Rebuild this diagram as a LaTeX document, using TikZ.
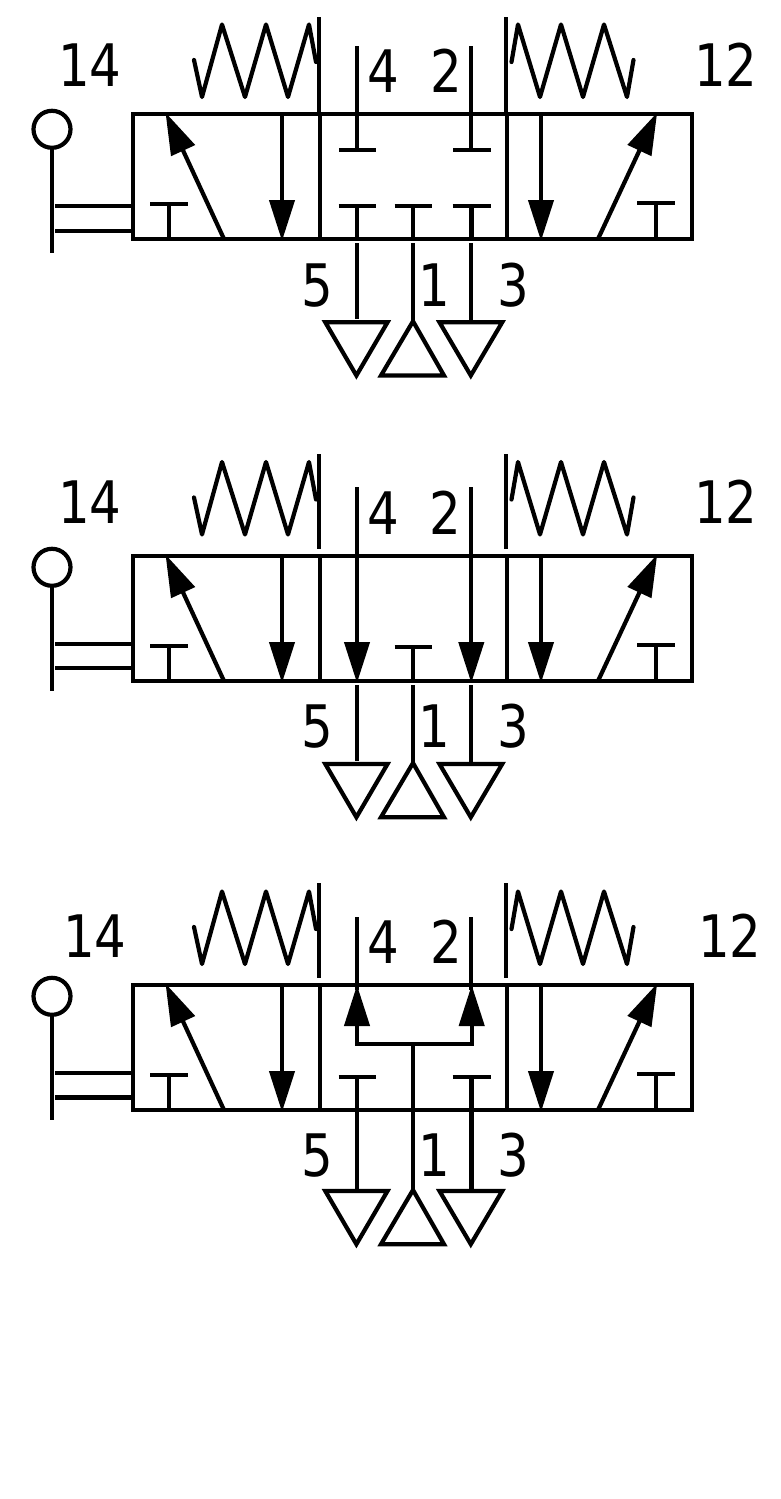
\documentclass[tikz,border=0pt]{standalone}
\usepackage{fontspec}
\usetikzlibrary{arrows.meta}
\newfontfamily\lblfont[FakeStretch=0.85]{DejaVu Sans}
\tikzset{
  sym/.style={line width=4.2pt,line cap=butt,line join=miter,black},
  thin bar/.style={line width=3.9pt},
  spr/.style={line width=4.2pt,line cap=round,line join=round,black},
  flow/.style={sym,-{Triangle[length=41pt,width=25pt]}},
  slant/.style={sym,-{Triangle[length=42pt,width=25.5pt]}},
  lbl/.style={inner sep=0pt,outer sep=0pt,anchor=base,font=\lblfont\fontsize{58.6}{60}\selectfont,black},
}
\newcommand{\tbar}[4]{% x, y, ybottom, half width
  \draw[sym] (#1-#4,#2) -- (#1+#4,#2);
  \draw[sym] (#1,#2) -- (#1,#3);
}
\newcommand{\valvebody}[5]{% box, spring, divider, lever, triangle offsets
  \draw[sym] (133,114+#1) rectangle (692,239.3+#1);
  % slanted arrows
  \draw[slant] (224,239+#1) -- (165.5,112.5+#1);
  \draw[slant] (598,239+#1) -- (657.2,112.5+#1);
  % straight arrows
  \draw[flow] (282,114+#1) -- (282,241+#1);
  \draw[flow] (541,114+#1) -- (541,241+#1);
  % outer blocked ports
  \tbar{169}{204+#1}{239+#1}{19}
  \tbar{656}{203+#1}{239+#1}{19}
  % dividers
  \draw[sym] (319,17+#3) -- (319,112+#3);
  \draw[sym] (506,17+#3) -- (506,112+#3);
  \draw[sym] (320,114+#1) -- (320,241+#1);
  \draw[sym] (507,114+#1) -- (507,241+#1);
  % springs
  \draw[spr] (194,60+#2) -- (202,97+#2) -- (222,24.5+#2) -- (245,97+#2) -- (266,24.5+#2) -- (288,97+#2) -- (309,24.5+#2) -- (316,62+#2);
  \draw[spr] (511.5,62+#2) -- (518,24.5+#2) -- (540,97+#2) -- (561,24.5+#2) -- (583,97+#2) -- (604,24.5+#2) -- (627,97+#2) -- (633.5,60+#2);
  % lever
  \draw[sym] (52,129.3+#4) circle[radius=18.5];
  \draw[sym,line width=3.9pt] (52,148+#4) -- (52,252.7+#4);
  % exhaust and supply triangles
  \draw[sym] (325.3,322.3+#5) -- (387.5,322.3+#5) -- (356.4,375.5+#5) -- cycle;
  \draw[sym] (439.5,322.3+#5) -- (502.2,322.3+#5) -- (470.8,375.5+#5) -- cycle;
  \draw[sym] (413,321.3+#5) -- (444,375.5+#5) -- (381,375.5+#5) -- cycle;
}
\newcommand{\lab}[4]{\node[lbl] (#1) at (#2,#3) {#4};}
\begin{document}
\begin{tikzpicture}[x=1pt,y=-1pt]
\useasboundingbox (0,0) rectangle (780,1499);
% ---------- panel 1
\valvebody{0}{0}{0}{0}{0}
\draw[sym,thin bar] (55,205.7) -- (131,205.7);
\draw[sym,thin bar] (55,230.7) -- (131,230.7);
\draw[sym] (357,46) -- (357,150);
\draw[sym] (339,150) -- (376,150);
\draw[sym] (471,46) -- (471,150);
\draw[sym] (453,150) -- (491,150);
\tbar{357}{206}{239}{18.5}
\tbar{413}{206}{239}{18.5}
\tbar{471.5}{206}{239}{19}
\draw[sym] (357,243) -- (357,319);
\draw[sym] (471,243) -- (471,321);
\draw[sym] (413,243) -- (413,323);
\lab{a14}{90}{86}{14}
\lab{a12}{726}{86}{12}
\lab{a4}{383.5}{92.7}{4}
\lab{a2}{446}{92.7}{2}
\lab{a5}{317}{306}{5}
\lab{a1}{434}{306}{1}
\lab{a3}{513.5}{306}{3}
% ---------- panel 2
\valvebody{442}{437.5}{437.3}{438}{441.7}
\draw[sym,thin bar] (55,644) -- (131,644);
\draw[sym,thin bar] (55,667.7) -- (131,667.7);
\draw[flow] (357,487) -- (357,683);
\draw[flow] (471.3,487) -- (471.3,683);
\tbar{413}{647}{681}{18.5}
\draw[sym] (357,685) -- (357,761);
\draw[sym] (471,685) -- (471,763);
\draw[sym] (413,685) -- (413,765);
\lab{b14}{90}{523.3}{14}
\lab{b12}{726}{523.3}{12}
\lab{b4}{383.5}{534}{4}
\lab{b2}{445}{534}{2}
\lab{b5}{317}{747.7}{5}
\lab{b1}{434}{747.7}{1}
\lab{b3}{513.5}{747.7}{3}
% ---------- panel 3
\valvebody{871}{867}{866.3}{867}{868.7}
\draw[sym,thin bar] (55,1073) -- (131,1073);
\draw[sym,line width=5pt] (55,1097.3) -- (131,1097.3);
\draw[sym] (357,917) -- (357,990);
\draw[sym] (471.3,917) -- (471.3,990);
\draw[flow] (357,1044) -- (357,985);
\draw[flow] (471.7,1044) -- (471.7,985);
\draw[sym] (355,1044) -- (473.7,1044);
\draw[sym] (413,1044) -- (413,1192);
\tbar{357}{1077}{1190}{18.5}
\tbar{471.5}{1077}{1190}{19}
\lab{c14}{95}{957}{14}
\lab{c12}{730}{957}{12}
\lab{c4}{383.5}{963}{4}
\lab{c2}{446}{963}{2}
\lab{c5}{317}{1176.7}{5}
\lab{c1}{434}{1176.7}{1}
\lab{c3}{513.5}{1176.7}{3}
\end{tikzpicture}
\end{document}
